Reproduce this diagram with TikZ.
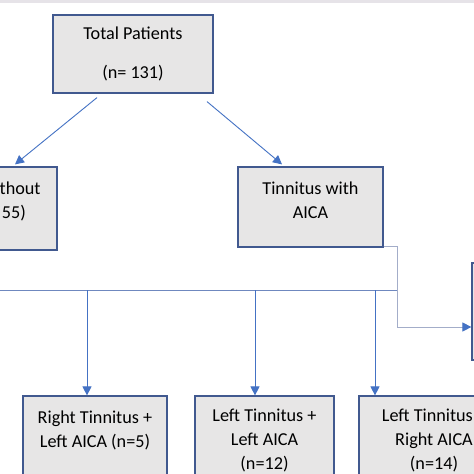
\documentclass[tikz,border=0pt]{standalone}
\usepackage{fontspec}
\setmainfont{Carlito}
\usepackage{xcolor}
\usetikzlibrary{shapes, arrows.meta, positioning}
\definecolor{boxline}{HTML}{41598F}
\definecolor{boxfill}{HTML}{E7E6E6}
\definecolor{arrowblue}{HTML}{4472C4}
\definecolor{elbowgray}{HTML}{A3ADC9}
\definecolor{busblue}{HTML}{6F88BF}
\definecolor{topstrip}{HTML}{E6E3E8}

\begin{document}
\begin{tikzpicture}[x=1pt, y=-1pt,
    box/.style={draw=boxline, line width=1.2pt, fill=boxfill, rectangle, inner sep=0pt},
    txt/.style={align=center, font=\fontsize{18.2}{24}\selectfont, inner sep=0pt},
    arr/.style={draw=arrowblue, line width=0.9pt, -{Triangle[length=9pt, width=9pt]}},
    link/.style={draw=busblue, line width=0.9pt}]
                \useasboundingbox (0,0) rectangle (474,474);
                \clip (0,0) rectangle (474,474);
                \fill[white] (0,0) rectangle (474,474);
                \fill[topstrip] (0,0) rectangle (474,2.5);
                % boxes
                \node[box, minimum width=160, minimum height=78] (total) at (133,54) {};
                \node[txt] (totalT) at (133,53.5) {Total Patients\\[15pt](n= 131)};
                \node[box, minimum width=145, minimum height=83] (woaica) at (-15.5,208.5) {};
                \node[txt] (woaicaT) at (-20,201) {Tinnitus without\\AICA (n= 55)};
                \node[box, minimum width=145, minimum height=80] (aica) at (310.5,207) {};
                \node[txt] (aicaT) at (310.5,200) {Tinnitus with\\AICA};
                \node[box, minimum width=146, minimum height=97] (rbox) at (545,311.5) {};
                \node[box, minimum width=144, minimum height=100] (rtla) at (95,446) {};
                \node[txt] (rtlaT) at (95,430) {Right Tinnitus +\\Left AICA (n=5)};
                \node[box, minimum width=139, minimum height=100] (ltla) at (264.5,446) {};
                \node[txt] (ltlaT) at (264.5,440) {Left Tinnitus +\\Left AICA\\(n=12)};
                \node[box, minimum width=148, minimum height=100] (ltra) at (433,446) {};
                \node[txt] (ltraT) at (434,440) {Left Tinnitus +\\Right AICA\\(n=14)};
                % connectors
                \draw[arr] ([shift={(-36,4)}]total.south) -- ([shift={(30.5,-2)}]woaica.north);
                \draw[arr] ([shift={(74,8)}]total.south) -- ([shift={(-28.5,-2)}]aica.north);
                \coordinate (split) at (397,290);
                \coordinate (busend) at (0,290);
                \coordinate (rin) at ([yshift=-15.5pt]rbox.west);
                \draw[draw=elbowgray, line width=0.9pt] ([yshift=1pt]aica.south east) -| (split);
                \draw[draw=elbowgray, line width=0.9pt, -{Triangle[length=9pt, width=9pt, color=arrowblue]}] (split) |- (rin);
                \draw[link] (split) -- (busend);
                \draw[arr] ([xshift=-8pt]rtla.north |- split) -- ([xshift=-8pt]rtla.north);
                \draw[arr] ([xshift=-9.5pt]ltla.north |- split) -- ([xshift=-9.5pt]ltla.north);
                \draw[arr] ([xshift=-58pt]ltra.north |- split) -- ([xshift=-58pt]ltra.north);
            \end{tikzpicture}
\end{document}
